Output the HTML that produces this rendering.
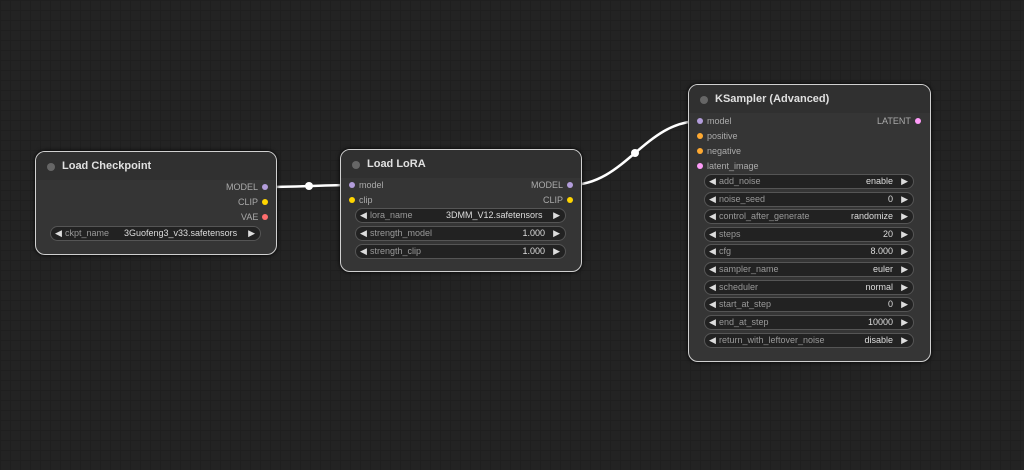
<!DOCTYPE html>
<html><head><style>
body{margin:0;width:1024px;height:470px;overflow:hidden;background-color:#232323;
background-image:linear-gradient(#1f1f1f 1px,transparent 1px),linear-gradient(90deg,#1f1f1f 1px,transparent 1px);
background-size:10px 10px;font-family:"Liberation Sans",sans-serif;position:relative}
.node{position:absolute;background:#353535;border:1.5px solid #d0d0d0;border-radius:10px;box-sizing:border-box;box-shadow:0 0 4px #000}
.title{position:absolute;left:0;right:0;top:0;height:28px;background:#303030;border-radius:9px 9px 0 0;color:#e0e0e0;font-size:11px;font-weight:bold}
.title .c{position:absolute;left:11px;top:11px;width:8px;height:8px;border-radius:50%;background:#666}
.title span{position:absolute;left:26px;top:8px}
.s{position:absolute;font-size:9px;color:#aaa;line-height:10px}
.d{position:absolute;width:6px;height:6px;border-radius:50%}
.w{position:absolute;height:15px;background:#222;border:1px solid #555;border-radius:8px;box-sizing:border-box;font-size:9px;line-height:13px;color:#999}
.w .l{position:absolute;left:4px;color:#ddd}
.w .n{position:absolute;left:14px}
.w .v{position:absolute;right:20px;color:#ddd}
.w .r{position:absolute;right:5px;color:#ddd}
</style></head><body>
<svg width="1024" height="470" style="position:absolute;left:0;top:0;z-index:0">
<path d="M265 187 C290 187, 330 185, 352 185" stroke="#fff" stroke-width="2.5" fill="none"/>
<circle cx="309" cy="186" r="4" fill="#fff"/>
<path d="M570 185 C625 185, 645 121, 700 121" stroke="#fff" stroke-width="2.5" fill="none"/>
<circle cx="635" cy="153" r="4" fill="#fff"/>
</svg>

<div class="node" style="left:35px;top:151px;width:242px;height:104px">
<div class="title"><div class="c"></div><span>Load Checkpoint</span></div>
</div>
<div class="s" style="left:226px;top:182px">MODEL</div><div class="d" style="left:262px;top:184px;background:#b39ddb"></div>
<div class="s" style="left:238px;top:197px">CLIP</div><div class="d" style="left:262px;top:199px;background:#ffd500"></div>
<div class="s" style="left:241px;top:212px">VAE</div><div class="d" style="left:262px;top:214px;background:#ff6e6e"></div>
<div class="w" style="left:50px;top:226px;width:211px"><span class="l">◀</span><span class="n">ckpt_name</span><span style="position:absolute;left:73px;color:#ddd">3Guofeng3_v33.safetensors</span><span class="r">▶</span></div>

<div class="node" style="left:340px;top:149px;width:242px;height:123px">
<div class="title"><div class="c"></div><span>Load LoRA</span></div>
</div>
<div class="d" style="left:349px;top:182px;background:#b39ddb"></div><div class="s" style="left:359px;top:180px">model</div>
<div class="d" style="left:349px;top:197px;background:#ffd500"></div><div class="s" style="left:359px;top:195px">clip</div>
<div class="s" style="left:531px;top:180px">MODEL</div><div class="d" style="left:567px;top:182px;background:#b39ddb"></div>
<div class="s" style="left:543px;top:195px">CLIP</div><div class="d" style="left:567px;top:197px;background:#ffd500"></div>
<div class="w" style="left:355px;top:208px;width:211px"><span class="l">◀</span><span class="n">lora_name</span><span style="position:absolute;left:90px;color:#ddd">3DMM_V12.safetensors</span><span class="r">▶</span></div>
<div class="w" style="left:355px;top:226px;width:211px"><span class="l">◀</span><span class="n">strength_model</span><span class="v">1.000</span><span class="r">▶</span></div>
<div class="w" style="left:355px;top:244px;width:211px"><span class="l">◀</span><span class="n">strength_clip</span><span class="v">1.000</span><span class="r">▶</span></div>

<div class="node" style="left:688px;top:84px;width:243px;height:278px">
<div class="title"><div class="c"></div><span>KSampler (Advanced)</span></div>
</div>
<div class="d" style="left:697px;top:118px;background:#b39ddb"></div><div class="s" style="left:707px;top:116px">model</div>
<div class="d" style="left:697px;top:133px;background:#ffa931"></div><div class="s" style="left:707px;top:131px">positive</div>
<div class="d" style="left:697px;top:148px;background:#ffa931"></div><div class="s" style="left:707px;top:146px">negative</div>
<div class="d" style="left:697px;top:163px;background:#ff9cf9"></div><div class="s" style="left:707px;top:161px">latent_image</div>
<div class="s" style="left:877px;top:116px">LATENT</div><div class="d" style="left:915px;top:118px;background:#ff9cf9"></div>

<div class="w" style="left:704px;top:174px;width:210px"><span class="l">◀</span><span class="n">add_noise</span><span class="v">enable</span><span class="r">▶</span></div>
<div class="w" style="left:704px;top:192px;width:210px"><span class="l">◀</span><span class="n">noise_seed</span><span class="v">0</span><span class="r">▶</span></div>
<div class="w" style="left:704px;top:209px;width:210px"><span class="l">◀</span><span class="n">control_after_generate</span><span class="v">randomize</span><span class="r">▶</span></div>
<div class="w" style="left:704px;top:227px;width:210px"><span class="l">◀</span><span class="n">steps</span><span class="v">20</span><span class="r">▶</span></div>
<div class="w" style="left:704px;top:244px;width:210px"><span class="l">◀</span><span class="n">cfg</span><span class="v">8.000</span><span class="r">▶</span></div>
<div class="w" style="left:704px;top:262px;width:210px"><span class="l">◀</span><span class="n">sampler_name</span><span class="v">euler</span><span class="r">▶</span></div>
<div class="w" style="left:704px;top:280px;width:210px"><span class="l">◀</span><span class="n">scheduler</span><span class="v">normal</span><span class="r">▶</span></div>
<div class="w" style="left:704px;top:297px;width:210px"><span class="l">◀</span><span class="n">start_at_step</span><span class="v">0</span><span class="r">▶</span></div>
<div class="w" style="left:704px;top:315px;width:210px"><span class="l">◀</span><span class="n">end_at_step</span><span class="v">10000</span><span class="r">▶</span></div>
<div class="w" style="left:704px;top:333px;width:210px"><span class="l">◀</span><span class="n">return_with_leftover_noise</span><span class="v">disable</span><span class="r">▶</span></div>
</body></html>
